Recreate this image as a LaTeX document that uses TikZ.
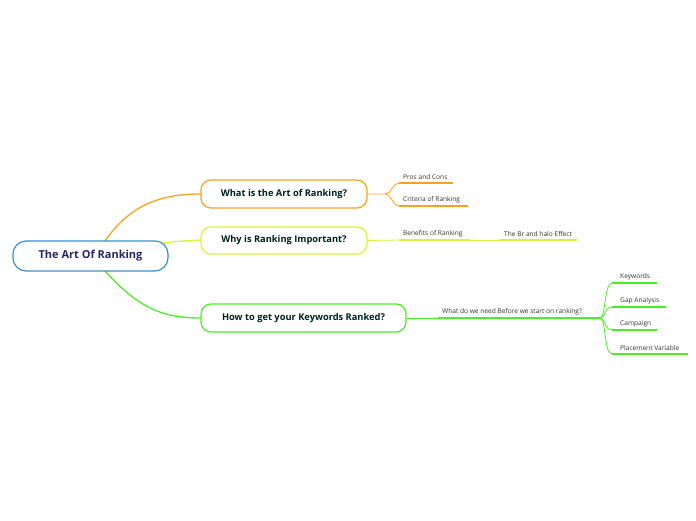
\documentclass[tikz,border=0pt]{standalone}
\usepackage{fontspec}
\setmainfont{Open Sans}
\begin{document}
\begin{tikzpicture}[x=1pt,y=-1pt,
  box/.style={draw=#1,line width=1.2pt,rounded corners=10pt,fill=white,font=\bfseries\fontsize{9.3}{11}\selectfont,text=black!75!teal,inner sep=0pt},
  leaf/.style={font=\fontsize{6.6}{8}\selectfont,text=black!80,anchor=south west,inner sep=1pt},
  ul/.style={draw=#1,line width=1.8pt},
  con/.style={draw=#1,line width=0.8pt}]
\definecolor{org}{HTML}{F7A21E}\definecolor{ylw}{HTML}{D6F53A}\definecolor{grn}{HTML}{4DEB2A}\definecolor{blu}{HTML}{3A8FCF}
\useasboundingbox (0,0) rectangle (696,520);
% connectors from root
\draw[org,line width=1.3pt] (105,241) .. controls (130,205) and (160,194) .. (201,194);
\draw[ylw,line width=1.3pt] (162,243) .. controls (180,241) .. (201,240);
\draw[grn,line width=1.3pt] (105,271) .. controls (140,310) and (165,318) .. (201,318);
\node[box=blu,minimum width=155pt,minimum height=30pt,rounded corners=13pt,text=blue!30!black!85,font=\bfseries\fontsize{11}{13}\selectfont] (root) at (90.5,256) {The Art Of Ranking};
\node[box=org,minimum width=166pt,minimum height=28pt] (b1) at (284,194) {What is the Art of Ranking?};
\node[box=ylw,minimum width=166pt,minimum height=27pt] (b2) at (284,240.5) {Why is Ranking Important?};
\node[box=grn,minimum width=205pt,minimum height=28pt] (b3) at (303.5,318) {How to get your Keywords Ranked?};
% branch 1 leaves
\coordinate (l1) at (399,183); \coordinate (l1e) at (453,183);
\coordinate (l2) at (399,206); \coordinate (l2e) at (468,206);
\node[leaf] (t1) at (402,181) {Pros and Cons};
\node[leaf] (t2) at (402,204) {Criteria of Ranking};
\draw[con=org] (b1.east) -- (385,194) .. controls (392,194) and (392,183) .. (l1);
\draw[con=org] (385,194) .. controls (392,194) and (392,206) .. (l2);
\draw[ul=org] (l1) -- (l1e); \draw[ul=org] (l2) -- (l2e);
% branch 2
\coordinate (m1) at (399,240); \coordinate (m1e) at (470,240);
\coordinate (m2) at (499,240); \coordinate (m2e) at (577,240);
\node[leaf] (t3) at (402,238) {Benefits of Ranking};
\node[leaf] (t4) at (503,238) {The Br and halo Effect};
\draw[con=ylw] (b2.east) -- (m1); \draw[con=ylw] (m1e) -- (m2);
\draw[ul=ylw] (m1) -- (m1e); \draw[ul=ylw] (m2) -- (m2e);
% branch 3
\coordinate (n0) at (438,318); \coordinate (n0e) at (600,318);
\node[leaf] (t5) at (441,316) {What do we need Before we start on ranking?};
\draw[con=grn] (b3.east) -- (n0);
\draw[ul=grn] (n0) -- (n0e);
\foreach \y/\e/\t/\n in {283/657/Keywords/k1,307/666/Gap Analysis/k2,330/657/Campaign/k3,354/688/Placement Variable/k4}{
  \coordinate (\n) at (612,\y);
  \node[leaf] (\n t) at (619,\y-2) {\t};
  \draw[con=grn] (n0e) .. controls (606,318) and (604,\y) .. (\n);
  \draw[ul=grn] (\n) -- (\e,\y);
}
\end{tikzpicture}
\end{document}
